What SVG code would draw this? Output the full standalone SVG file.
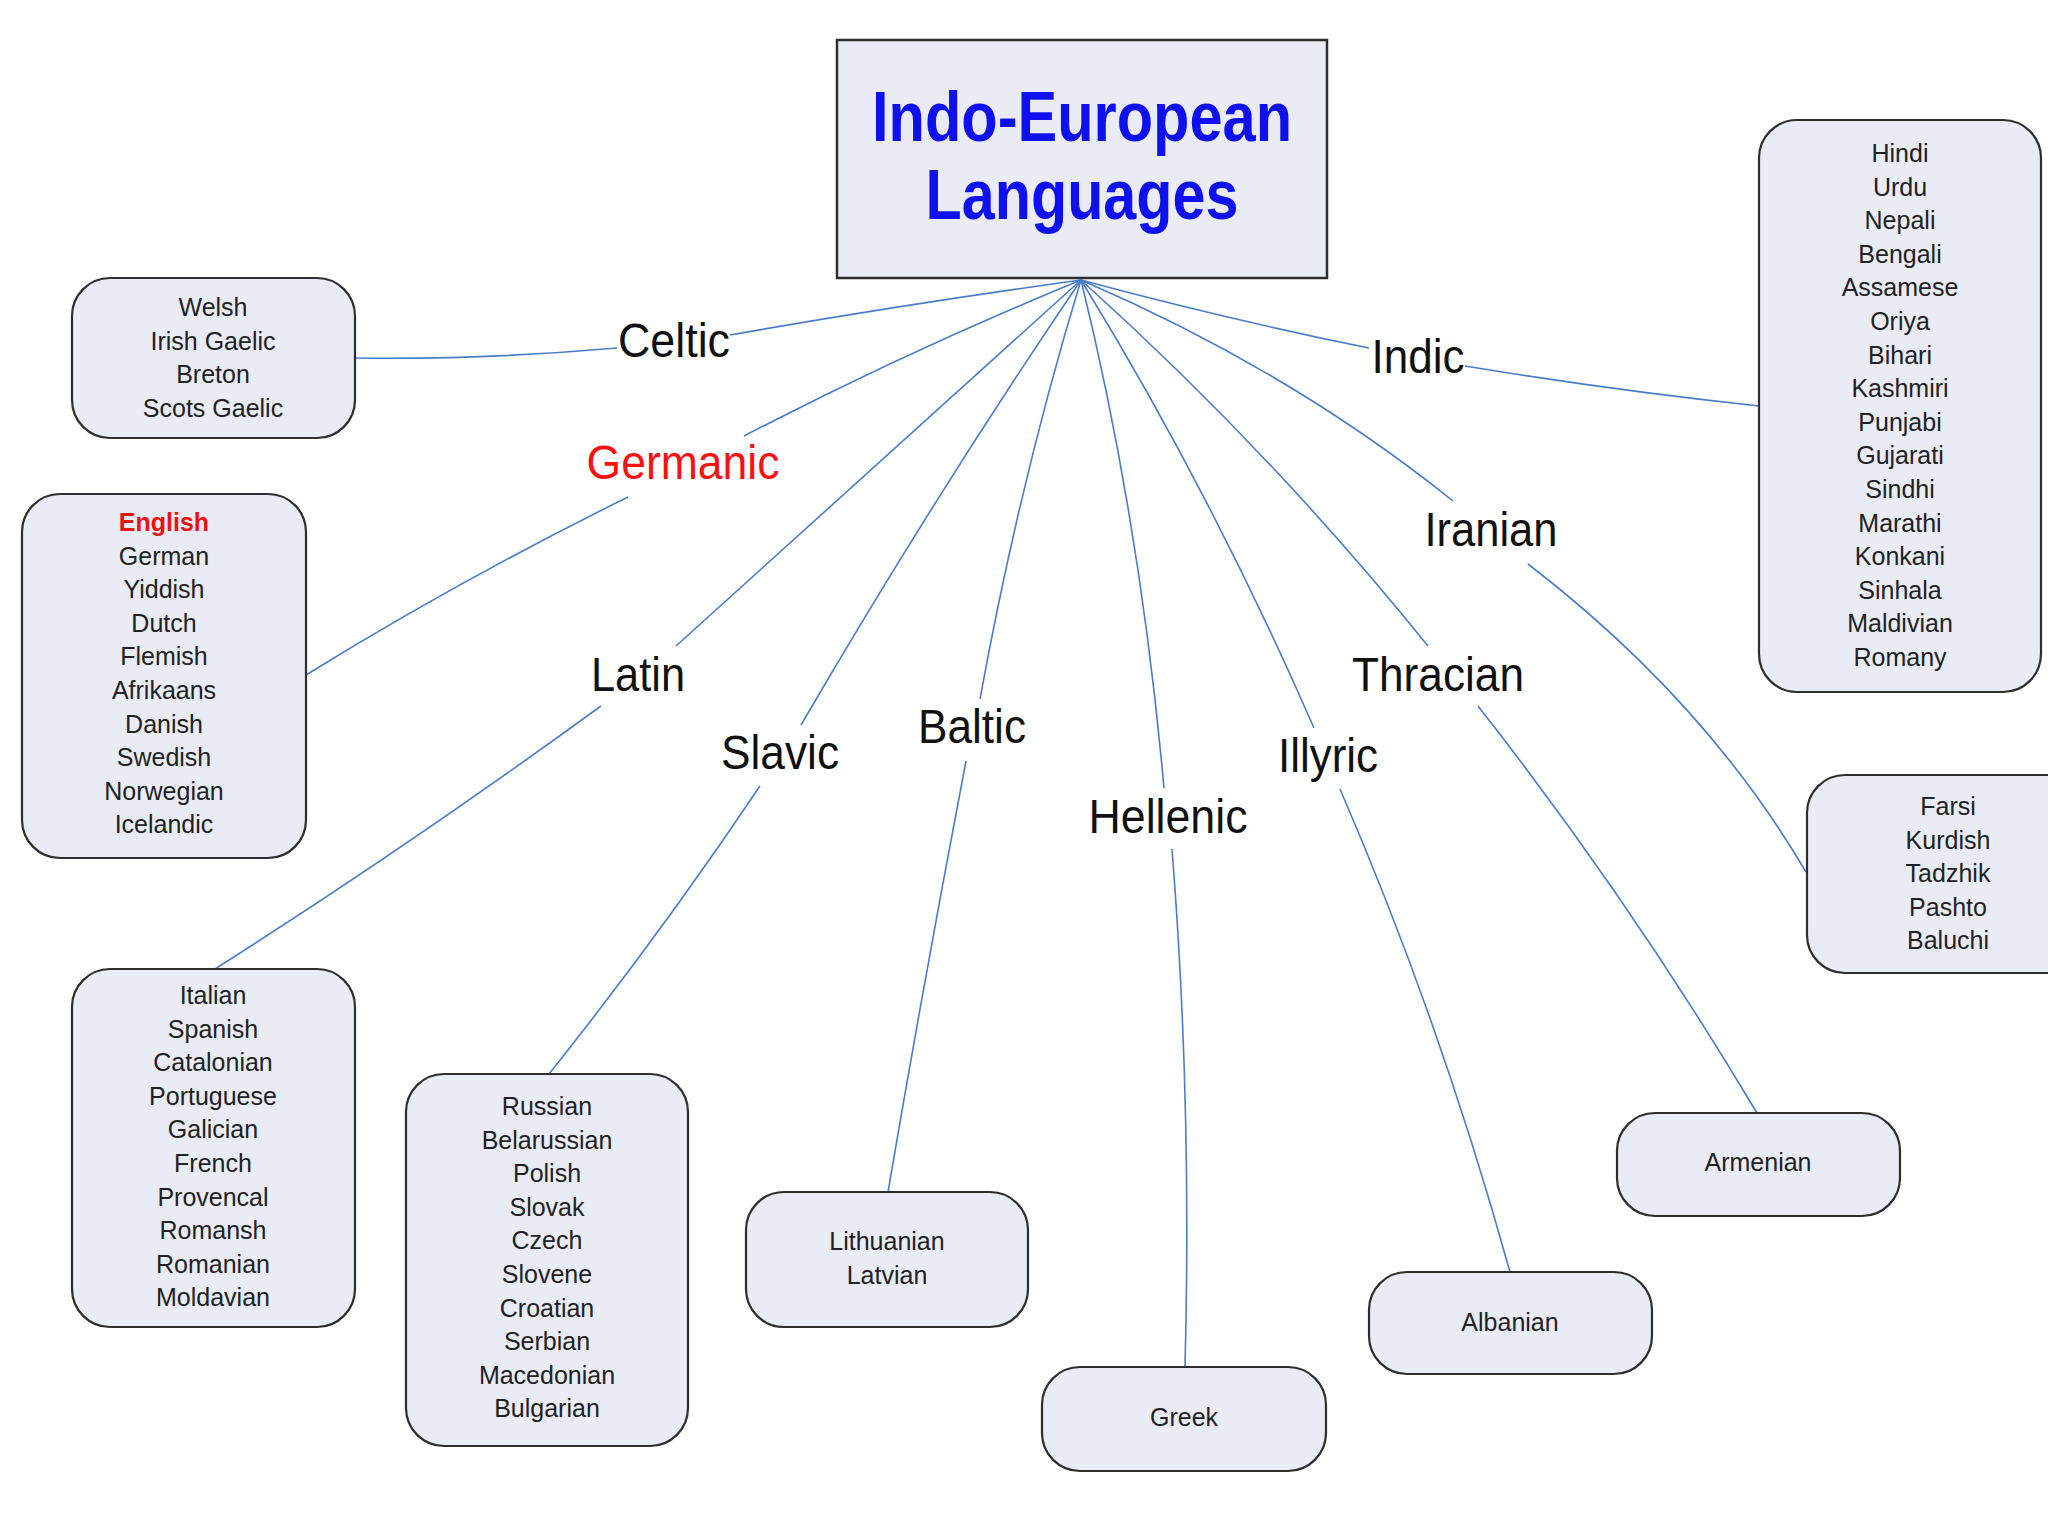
<svg xmlns="http://www.w3.org/2000/svg" width="2048" height="1536" viewBox="0 0 2048 1536">
  <style>
    .box { fill: #e9ebf5; stroke: #2e2e2e; stroke-width: 2.2; }
    .item { font-family: "Liberation Sans", Arial, sans-serif; font-size: 25px; fill: #222; text-anchor: middle; }
    .branch { font-family: "Liberation Sans", Arial, sans-serif; font-size: 48px; fill: #111; text-anchor: middle; }
    .title { font-family: "Liberation Sans", Arial, sans-serif; font-size: 70px; font-weight: bold; fill: #1010ee; text-anchor: middle; }
    .conn { fill: none; stroke: #4a7cc9; stroke-width: 1.6; }
  </style>
  <rect width="2048" height="1536" fill="#ffffff"/>

  <g id="connectors">
    <path class="conn" d="M1081,280 Q900,305 730,335"/>
    <path class="conn" d="M617,348 Q480,360 355,358"/>
    <path class="conn" d="M1081,280 Q910,350 744,436"/>
    <path class="conn" d="M628,497 Q460,580 306,675"/>
    <path class="conn" d="M1081,280 Q870,470 676,646"/>
    <path class="conn" d="M601,706 Q410,845 215,969"/>
    <path class="conn" d="M1081,280 Q935,495 801,725"/>
    <path class="conn" d="M760,786 Q660,935 549,1074"/>
    <path class="conn" d="M1081,280 Q1020,480 980,699"/>
    <path class="conn" d="M966,761 Q925,975 888,1192"/>
    <path class="conn" d="M1081,280 Q1140,520 1164,788"/>
    <path class="conn" d="M1172,849 Q1192,1100 1185,1367"/>
    <path class="conn" d="M1081,280 Q1210,490 1314,728"/>
    <path class="conn" d="M1340,789 Q1440,1020 1510,1272"/>
    <path class="conn" d="M1081,280 Q1270,450 1428,646"/>
    <path class="conn" d="M1478,706 Q1630,900 1757,1113"/>
    <path class="conn" d="M1081,280 Q1290,370 1453,501"/>
    <path class="conn" d="M1528,564 Q1705,700 1806,872"/>
    <path class="conn" d="M1081,280 Q1230,320 1369,348"/>
    <path class="conn" d="M1465,366 Q1610,390 1759,406"/>
  </g>

  <g id="title">
    <rect x="837" y="40" width="490" height="238" fill="#e9ebf5" stroke="#2e2e2e" stroke-width="2.5"/>
    <text class="title" x="1082" y="141" textLength="420" lengthAdjust="spacingAndGlyphs">Indo-European</text>
    <text class="title" x="1082" y="219" textLength="313" lengthAdjust="spacingAndGlyphs">Languages</text>
  </g>

  <g id="label-celtic"><text class="branch" x="674" y="357" textLength="112" lengthAdjust="spacingAndGlyphs">Celtic</text></g>
  <g id="label-germanic"><text class="branch" x="683" y="479" fill="#ff1010" style="fill:#ff1010" textLength="193" lengthAdjust="spacingAndGlyphs">Germanic</text></g>
  <g id="label-latin"><text class="branch" x="638" y="691" textLength="94" lengthAdjust="spacingAndGlyphs">Latin</text></g>
  <g id="label-slavic"><text class="branch" x="780" y="769" textLength="118" lengthAdjust="spacingAndGlyphs">Slavic</text></g>
  <g id="label-baltic"><text class="branch" x="972" y="743" textLength="108" lengthAdjust="spacingAndGlyphs">Baltic</text></g>
  <g id="label-hellenic"><text class="branch" x="1168" y="833" textLength="159" lengthAdjust="spacingAndGlyphs">Hellenic</text></g>
  <g id="label-illyric"><text class="branch" x="1328" y="772" textLength="100" lengthAdjust="spacingAndGlyphs">Illyric</text></g>
  <g id="label-thracian"><text class="branch" x="1438" y="691" textLength="172" lengthAdjust="spacingAndGlyphs">Thracian</text></g>
  <g id="label-iranian"><text class="branch" x="1491" y="546" textLength="133" lengthAdjust="spacingAndGlyphs">Iranian</text></g>
  <g id="label-indic"><text class="branch" x="1418" y="373" textLength="93" lengthAdjust="spacingAndGlyphs">Indic</text></g>

  <g id="box-celtic">
    <rect class="box" x="72" y="278" width="283" height="160" rx="38"/>
    <text class="item" x="213" y="316">Welsh</text>
    <text class="item" x="213" y="349.6">Irish Gaelic</text>
    <text class="item" x="213" y="383.2">Breton</text>
    <text class="item" x="213" y="416.8">Scots Gaelic</text>
  </g>

  <g id="box-germanic">
    <rect class="box" x="22" y="494" width="284" height="364" rx="38"/>
    <text class="item" x="164" y="531" style="fill:#ee1111;font-weight:bold">English</text>
    <text class="item" x="164" y="564.6">German</text>
    <text class="item" x="164" y="598.2">Yiddish</text>
    <text class="item" x="164" y="631.8">Dutch</text>
    <text class="item" x="164" y="665.4">Flemish</text>
    <text class="item" x="164" y="699">Afrikaans</text>
    <text class="item" x="164" y="732.6">Danish</text>
    <text class="item" x="164" y="766.2">Swedish</text>
    <text class="item" x="164" y="799.8">Norwegian</text>
    <text class="item" x="164" y="833.4">Icelandic</text>
  </g>

  <g id="box-latin">
    <rect class="box" x="72" y="969" width="283" height="358" rx="38"/>
    <text class="item" x="213" y="1004">Italian</text>
    <text class="item" x="213" y="1037.6">Spanish</text>
    <text class="item" x="213" y="1071.2">Catalonian</text>
    <text class="item" x="213" y="1104.8">Portuguese</text>
    <text class="item" x="213" y="1138.4">Galician</text>
    <text class="item" x="213" y="1172">French</text>
    <text class="item" x="213" y="1205.6">Provencal</text>
    <text class="item" x="213" y="1239.2">Romansh</text>
    <text class="item" x="213" y="1272.8">Romanian</text>
    <text class="item" x="213" y="1306.4">Moldavian</text>
  </g>

  <g id="box-slavic">
    <rect class="box" x="406" y="1074" width="282" height="372" rx="38"/>
    <text class="item" x="547" y="1115">Russian</text>
    <text class="item" x="547" y="1148.6">Belarussian</text>
    <text class="item" x="547" y="1182.2">Polish</text>
    <text class="item" x="547" y="1215.8">Slovak</text>
    <text class="item" x="547" y="1249.4">Czech</text>
    <text class="item" x="547" y="1283">Slovene</text>
    <text class="item" x="547" y="1316.6">Croatian</text>
    <text class="item" x="547" y="1350.2">Serbian</text>
    <text class="item" x="547" y="1383.8">Macedonian</text>
    <text class="item" x="547" y="1417.4">Bulgarian</text>
  </g>

  <g id="box-baltic">
    <rect class="box" x="746" y="1192" width="282" height="135" rx="38"/>
    <text class="item" x="887" y="1250">Lithuanian</text>
    <text class="item" x="887" y="1283.6">Latvian</text>
  </g>

  <g id="box-hellenic">
    <rect class="box" x="1042" y="1367" width="284" height="104" rx="38"/>
    <text class="item" x="1184" y="1426">Greek</text>
  </g>

  <g id="box-illyric">
    <rect class="box" x="1369" y="1272" width="283" height="102" rx="38"/>
    <text class="item" x="1510" y="1331">Albanian</text>
  </g>

  <g id="box-thracian">
    <rect class="box" x="1617" y="1113" width="283" height="103" rx="38"/>
    <text class="item" x="1758" y="1171">Armenian</text>
  </g>

  <g id="box-iranian">
    <rect class="box" x="1807" y="775" width="282" height="198" rx="38"/>
    <text class="item" x="1948" y="815">Farsi</text>
    <text class="item" x="1948" y="848.6">Kurdish</text>
    <text class="item" x="1948" y="882.2">Tadzhik</text>
    <text class="item" x="1948" y="915.8">Pashto</text>
    <text class="item" x="1948" y="949.4">Baluchi</text>
  </g>

  <g id="box-indic">
    <rect class="box" x="1759" y="120" width="282" height="572" rx="38"/>
    <text class="item" x="1900" y="162">Hindi</text>
    <text class="item" x="1900" y="195.6">Urdu</text>
    <text class="item" x="1900" y="229.2">Nepali</text>
    <text class="item" x="1900" y="262.8">Bengali</text>
    <text class="item" x="1900" y="296.4">Assamese</text>
    <text class="item" x="1900" y="330">Oriya</text>
    <text class="item" x="1900" y="363.6">Bihari</text>
    <text class="item" x="1900" y="397.2">Kashmiri</text>
    <text class="item" x="1900" y="430.8">Punjabi</text>
    <text class="item" x="1900" y="464.4">Gujarati</text>
    <text class="item" x="1900" y="498">Sindhi</text>
    <text class="item" x="1900" y="531.6">Marathi</text>
    <text class="item" x="1900" y="565.2">Konkani</text>
    <text class="item" x="1900" y="598.8">Sinhala</text>
    <text class="item" x="1900" y="632.4">Maldivian</text>
    <text class="item" x="1900" y="666">Romany</text>
  </g>
</svg>
